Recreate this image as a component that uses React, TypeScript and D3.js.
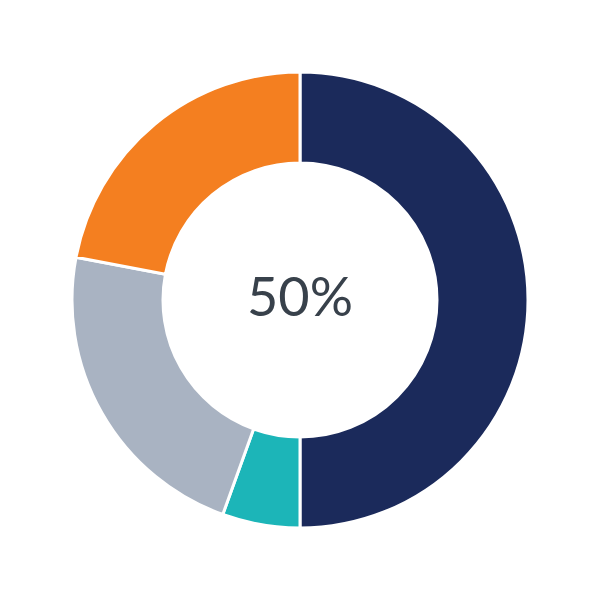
import React from "react";
import * as d3 from "d3";

const labels = ["A", "B", "C", "D"];
const values = [50, 5.5, 22.5, 22];
const colors = ["#1b2a5b", "#1cb5b8", "#a9b3c2", "#f47f20"];
const centerLabel = "50%";

const App = () => {
  const width = 600;
  const height = 600;
  const outerRadius = 228;
  const innerRadius = 137;

  const pie = d3
    .pie<number>()
    .sort(null)
    .value((d) => d);
  const arcs = pie(values);

  const arc = d3
    .arc<d3.PieArcDatum<number>>()
    .innerRadius(innerRadius)
    .outerRadius(outerRadius);

  const color = d3.scaleOrdinal<string, string>().domain(labels).range(colors);

  return (
    <svg
      width={width}
      height={height}
      style={{ position: "absolute", left: 0, top: 0, background: "#fff" }}
    >
      <g transform={`translate(${width / 2},${height / 2})`}>
        {arcs.map((a, i) => (
          <path
            key={labels[i]}
            d={arc(a) || ""}
            fill={color(labels[i])}
            stroke="#fff"
            strokeWidth={3}
          />
        ))}
        <text
          x={0}
          y={16}
          textAnchor="middle"
          fontFamily="Lato, sans-serif"
          fontSize={54}
          fill="#38414b"
        >
          {centerLabel}
        </text>
      </g>
    </svg>
  );
};

export default App;
